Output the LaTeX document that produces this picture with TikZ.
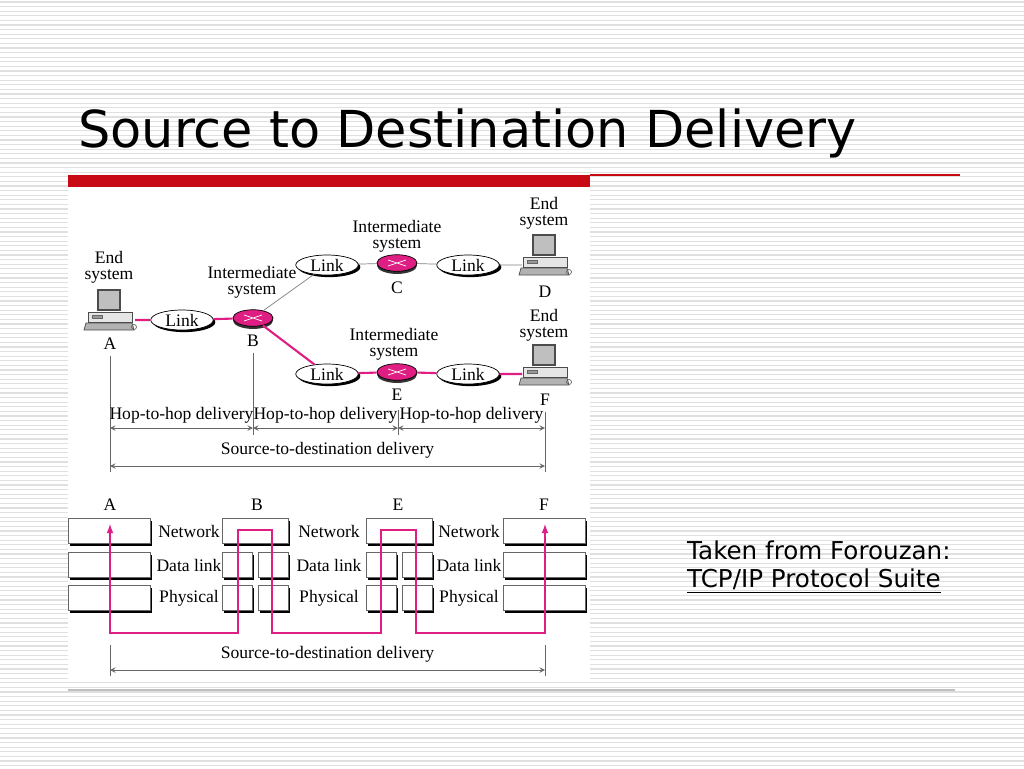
\documentclass[tikz,border=0pt]{standalone}
\usepackage{fontspec}
\setmainfont{Liberation Serif}
\newfontfamily\slidefont{DejaVu Sans}
\usetikzlibrary{shapes.geometric,shadows}
\definecolor{hot}{RGB}{222,30,130}
\definecolor{barred}{RGB}{200,10,20}
\tikzset{
  linkbox/.style={ellipse, draw, fill=white, inner sep=0pt, minimum width=1.25cm, minimum height=0.4cm,
    font=\fontsize{10}{11}\selectfont, drop shadow={shadow xshift=1.2pt, shadow yshift=-1.2pt, fill=black, opacity=1}},
  router/.style={ellipse, draw, fill=hot, minimum width=0.8cm, minimum height=0.3cm,
    drop shadow={shadow xshift=0pt, shadow yshift=-1.5pt, fill=black!80, opacity=1}},
  lbl/.style={font=\fontsize{10}{11}\selectfont, align=center, text=black},
  layer/.style={draw=black!60, fill=white, minimum height=0.5cm, inner sep=0pt,
    drop shadow={shadow xshift=1.2pt, shadow yshift=-1.2pt, fill=black, opacity=1}},
  hop/.style={line width=1.2pt, hot},
  thinlink/.style={black!50, thin},
  dim/.style={black!60, thin},
}
\newcommand\pcat[1]{%
  \begin{scope}[shift={(#1)}]
    \fill[black!70] (-13,-24) rectangle (11,-2);
    \fill[black!25] (-11,-22) rectangle (9,-4);
    \draw[black!70, fill=black!10] (-22,-1) rectangle (22,9);
    \draw[black!60, fill=black!40] (-18,2) -- (-8,2) -- (-8,5) -- (-18,5) -- cycle;
    \draw[black!70, fill=black!30] (-24,10) -- (22,10) -- (24,17) -- (-26,17) -- cycle;
    \draw[black!60] (24,14) circle (2.5);
  \end{scope}}
\begin{document}
\begin{tikzpicture}[x=0.02cm, y=-0.02cm]
  \useasboundingbox (0,0) rectangle (1024,768);
  \fill[white] (0,0) rectangle (1024,768);
  % stripes
  \foreach \yy in {2,6.6,...,768} \draw[black!12, line width=0.025cm] (0,\yy) -- (1024,\yy);
  \fill[white] (68,188) rectangle (590,682);
  \fill[barred] (68,175) rectangle (590,187);
  \draw[barred, line width=0.03cm] (590,175) -- (960,175);
  \draw[black!25, line width=0.03cm] (68,690) -- (955,690);

  \node[anchor=west, font=\slidefont\fontsize{29}{33}\selectfont] (title) at (72,133) {Source to Destination Delivery};

  % network
  \pcat{110,313} \pcat{545,258} \pcat{545,368}
  \coordinate (A) at (135,320); \coordinate (D) at (522,265); \coordinate (F) at (522,374);
  \node[linkbox] (lab) at (182,320) {Link};
  \node[linkbox] (lbc) at (327,265) {Link};
  \node[linkbox] (lcd) at (468,265) {Link};
  \node[linkbox] (lbe) at (327,374) {Link};
  \node[linkbox] (lef) at (468,374) {Link};
  \node[router] (B) at (253,318) {};
  \node[router] (C) at (397,263) {};
  \node[router] (E) at (397,372) {};
  \foreach \r in {B,C,E} \draw[white] (\r.center) ++(-9,-3) -- ++(18,6) (\r.center) ++(-9,3) -- ++(18,-6);

  \draw[hop] (A) -- (lab) -- (B) -- (lbe) -- (E) -- (lef) -- (F);
  \draw[thinlink] (B) -- (lbc) -- (C) -- (lcd) -- (D);

  \node[lbl] (esA) at (109,267) {End\\[-2pt]system};
  \node[lbl] (isB) at (252,282) {Intermediate\\[-2pt]system};
  \node[lbl] (isC) at (397,236) {Intermediate\\[-2pt]system};
  \node[lbl] (esD) at (544,213) {End\\[-2pt]system};
  \node[lbl] (esF) at (544,325) {End\\[-2pt]system};
  \node[lbl] (isE) at (394,344) {Intermediate\\[-2pt]system};
  \node[lbl] (nA) at (110,344) {A};
  \node[lbl] (nB) at (253,341) {B};
  \node[lbl] (nC) at (397,288) {C};
  \node[lbl] (nD) at (545,292) {D};
  \node[lbl] (nE) at (397,395) {E};
  \node[lbl] (nF) at (545,400) {F};

  % delivery spans
  \coordinate (t1) at (110,472); \coordinate (t2) at (253,435);
  \coordinate (t3) at (398,435); \coordinate (t4) at (545,472);
  \draw[dim] (nA) -- (t1); \draw[dim] (nB) -- (t2);
  \draw[dim] (398,410) -- (t3); \draw[dim] (nF) -- (t4);
  \draw[dim, <->, >=stealth] (110,428) -- node[lbl, above=-1pt] {Hop-to-hop delivery} (253,428);
  \draw[dim, <->, >=stealth] (253,428) -- node[lbl, above=-1pt] {Hop-to-hop delivery} (398,428);
  \draw[dim, <->, >=stealth] (398,428) -- node[lbl, above=-1pt] {Hop-to-hop delivery} (545,428);
  \draw[dim, <->, >=stealth] (110,466) -- node[lbl, above=1pt] {Source-to-destination delivery} (545,466);

  % layers
  \foreach \nm/\xx in {A/110,B/257,E/398,F/544} \node[lbl] (top\nm) at (\xx,505) {\nm};
  \foreach \yy/\rw in {531/net,565/dl,598/ph} {
    \node[layer, minimum width=1.64cm] (A\rw) at (109,\yy) {};
    \node[layer, minimum width=1.64cm] (F\rw) at (544,\yy) {};
  }
  \node[layer, minimum width=1.32cm] (Bnet) at (255,531) {};
  \node[layer, minimum width=1.32cm] (Enet) at (399,531) {};
  \foreach \yy/\rw in {565/dl,598/ph} {
    \node[layer, minimum width=0.6cm] (B\rw l) at (237,\yy) {};
    \node[layer, minimum width=0.6cm] (B\rw r) at (273,\yy) {};
    \node[layer, minimum width=0.6cm] (E\rw l) at (381,\yy) {};
    \node[layer, minimum width=0.6cm] (E\rw r) at (417,\yy) {};
  }
  \foreach \xx in {189,329,469} {
    \node[lbl] at (\xx,531) {Network};
    \node[lbl] at (\xx,565) {Data link};
    \node[lbl] at (\xx,598) {Physical};
  }
  \draw[hot, line width=0.8pt, <->, >=latex] (110,524) -- (110,633) -- (238,633) -- (238,530) -- (272,530) -- (272,633)
    -- (381,633) -- (381,530) -- (416,530) -- (416,633) -- (545,633) -- (545,524);
  \coordinate (b1) at (110,676); \coordinate (b2) at (545,676);
  \draw[dim] (110,645) -- (b1); \draw[dim] (545,645) -- (b2);
  \draw[dim, <->, >=stealth] (110,670) -- node[lbl, above=1pt] {Source-to-destination delivery} (545,670);

  \node[anchor=west, font=\slidefont\fontsize{14}{16}\selectfont] (src1) at (681,550) {Taken from Forouzan:};
  \node[anchor=west, font=\slidefont\fontsize{14}{16}\selectfont] (src2) at (681,581) {\underline{TCP/IP Protocol Suite}};
\end{tikzpicture}
\end{document}
